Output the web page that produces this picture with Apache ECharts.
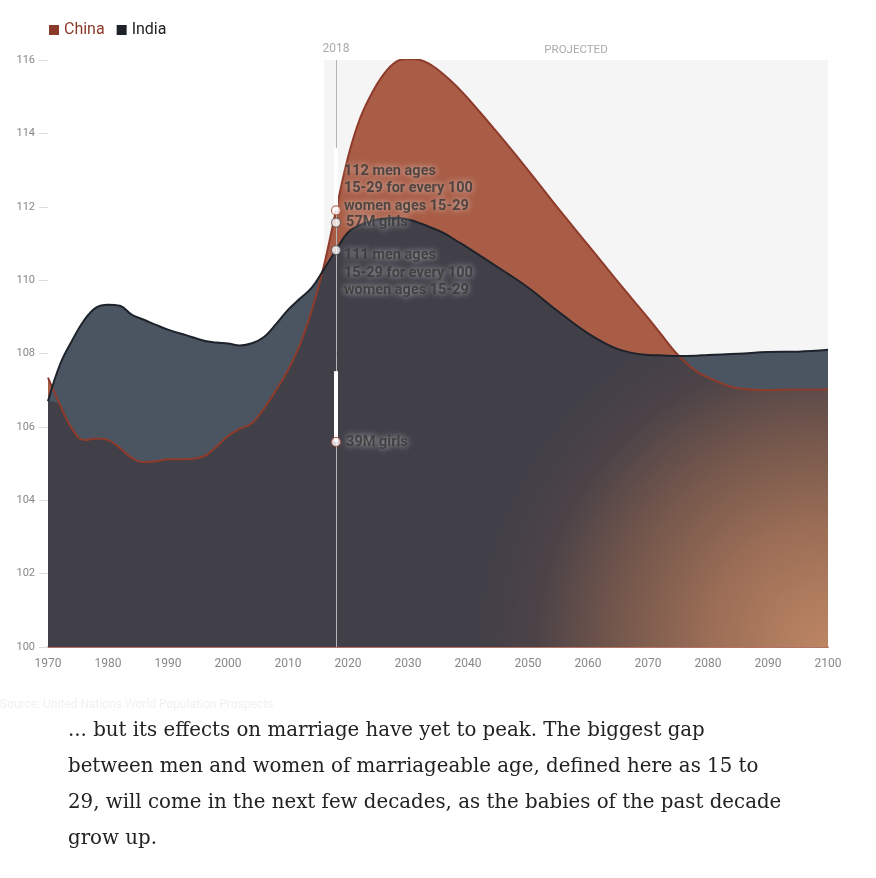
<!DOCTYPE html>
<html>
<head>
<meta charset="utf-8">
<script src="https://cdn.jsdelivr.net/npm/echarts@6/dist/echarts.min.js"></script>
<style>
  html, body { margin: 0; padding: 0; background: #fff; }
  #chart { width: 876px; height: 878px; }
</style>
</head>
<body>
<div id="chart"></div>
<script>
// men per 100 women, ages 15-29
var years = [1970,1972,1974,1976,1978,1980,1982,1984,1986,1988,1990,1993,1996,1998,2000,2002,2004,2006,2008,2010,2012,2014,2016,2018,2020,2022,2024,2026,2028,2030,2032,2034,2036,2038,2040,2045,2050,2055,2060,2065,2070,2072,2075,2078,2080,2085,2090,2095,2100];
var china = [107.34,106.6,105.95,105.64,105.68,105.64,105.42,105.15,105.04,105.06,105.12,105.12,105.2,105.45,105.75,105.95,106.1,106.5,107.0,107.55,108.25,109.2,110.4,111.9,113.35,114.4,115.1,115.62,115.95,116.03,116.0,115.85,115.6,115.3,114.95,114.0,113.0,111.96,110.96,109.95,108.97,108.56,107.96,107.52,107.35,107.05,107.0,107.02,107.02];
var india = [106.7,107.7,108.35,108.9,109.25,109.33,109.3,109.05,108.92,108.78,108.65,108.5,108.35,108.3,108.27,108.22,108.28,108.45,108.8,109.19,109.5,109.8,110.3,110.82,111.3,111.5,111.62,111.68,111.7,111.65,111.55,111.42,111.28,111.08,110.88,110.35,109.8,109.15,108.55,108.12,107.96,107.95,107.93,107.94,107.96,107.99,108.04,108.05,108.1];

var markYear = 2018;
var projectedFrom = 2016;
var pointValues = [111.9, 111.57, 110.82, 105.59];
var pointLabels = [
  '112 men ages\n15-29 for every 100\nwomen ages 15-29',
  '57M girls',
  '111 men ages\n15-29 for every 100\nwomen ages 15-29',
  '39M girls'
];
var girlBars = [[113.6, 111.9], [107.52, 105.59]];

var chinaData = years.map(function (y, i) { return [y, china[i]]; });
var indiaData = years.map(function (y, i) { return [y, india[i]]; });
var baseData = years.map(function (y, i) { return [y, Math.min(china[i], india[i])]; });

var chart = echarts.init(document.getElementById('chart'));

var glow = {
  color: '#363636',
  fontFamily: 'Roboto',
  fontWeight: 'bold',
  fontSize: 14.5,
  lineHeight: 17.5,
  textShadowColor: 'rgba(255,255,255,0.85)',
  textShadowBlur: 6
};

var option = {
  animation: false,
  backgroundColor: '#fff',
  grid: { left: 48, right: 48, top: 60, bottom: 231 },
  legend: {
    left: 44,
    top: 17,
    itemWidth: 10,
    itemHeight: 10,
    itemGap: 12,
    icon: 'rect',
    textStyle: { fontSize: 16, fontFamily: 'Roboto' },
    data: [
      { name: 'China', textStyle: { color: '#8b3a2a' } },
      { name: 'India', textStyle: { color: '#222' } }
    ]
  },
  xAxis: {
    type: 'value',
    min: 1970,
    max: 2100,
    interval: 10,
    axisLine: { show: true, lineStyle: { color: '#9a4431', width: 1.5 } },
    axisTick: { show: false },
    splitLine: { show: false },
    axisLabel: {
      color: '#888', fontSize: 12, margin: 11, fontFamily: 'Roboto',
      formatter: function (v) { return String(v); }
    }
  },
  yAxis: {
    type: 'value',
    min: 100,
    max: 116,
    interval: 2,
    axisLine: { show: false },
    axisTick: { show: true, length: 9, lineStyle: { color: '#ddd' } },
    splitLine: { show: false },
    axisLabel: { color: '#888', fontSize: 11, margin: 13, fontFamily: 'Roboto' }
  },
  series: [
    {
      name: 'China fill',
      type: 'line',
      z: 2,
      data: chinaData,
      smooth: 0.4,
      showSymbol: false,
      lineStyle: { width: 0 },
      itemStyle: { color: '#a95d46' },
      areaStyle: { color: '#a95d46', opacity: 1 },
      markArea: {
        silent: true,
        itemStyle: { color: '#f5f5f5' },
        label: { show: true, position: 'top', distance: 4, color: '#aaa', fontSize: 11.5, fontFamily: 'Roboto' },
        data: [[{ name: 'PROJECTED', xAxis: projectedFrom }, { xAxis: 2100 }]]
      }
    },
    {
      name: 'India fill',
      type: 'line',
      z: 2,
      data: indiaData,
      smooth: 0.4,
      showSymbol: false,
      lineStyle: { width: 0 },
      itemStyle: { color: '#4b5461' },
      areaStyle: { color: '#4b5461', opacity: 1 }
    },
    {
      name: 'base',
      type: 'line',
      z: 3,
      data: baseData,
      smooth: 0.4,
      showSymbol: false,
      lineStyle: { width: 0 },
      areaStyle: {
        opacity: 1,
        color: new echarts.graphic.RadialGradient(1, 1, 1.1, [
          { offset: 0, color: '#bd8664' },
          { offset: 0.25, color: '#9c6e56' },
          { offset: 0.45, color: '#74574c' },
          { offset: 0.62, color: '#4c4347' },
          { offset: 0.75, color: '#413f48' },
          { offset: 1, color: '#413f48' }
        ])
      }
    },
    {
      name: 'China',
      type: 'line',
      z: 4,
      data: chinaData,
      smooth: 0.4,
      showSymbol: false,
      itemStyle: { color: '#8b3a2a' },
      lineStyle: { color: '#8f3b2b', width: 2 }
    },
    {
      name: 'India',
      type: 'line',
      z: 4,
      data: indiaData,
      smooth: 0.4,
      showSymbol: false,
      itemStyle: { color: '#1e232b' },
      lineStyle: { color: '#1e232b', width: 2 },
      markLine: {
        silent: true,
        z: 8,
        symbol: 'none',
        label: { show: false },
        data: [
          {
            xAxis: markYear,
            lineStyle: { color: '#b5b5b5', width: 1, type: 'solid' },
            label: { show: true, position: 'end', distance: 5, formatter: String(markYear), color: '#aaa', fontSize: 12, fontFamily: 'Roboto' }
          },
          [
            { coord: [markYear, girlBars[0][0]], lineStyle: { color: '#fff', width: 4, type: 'solid' } },
            { coord: [markYear, girlBars[0][1]] }
          ],
          [
            { coord: [markYear, girlBars[1][0]], lineStyle: { color: '#fff', width: 4, type: 'solid' } },
            { coord: [markYear, girlBars[1][1]] }
          ]
        ]
      }
    },
    {
      name: 'points',
      type: 'scatter',
      z: 9,
      symbolSize: 9,
      data: [
        {
          value: [markYear, pointValues[0]],
          itemStyle: { color: '#fff', borderColor: '#a9503a', borderWidth: 1.2 },
          label: Object.assign({ show: true, position: [13, -43], align: 'left', verticalAlign: 'top', formatter: pointLabels[0] }, glow)
        },
        {
          value: [markYear, pointValues[1]],
          itemStyle: { color: '#fff', borderColor: '#555', borderWidth: 1.2 },
          label: Object.assign({ show: true, position: 'right', distance: 5, formatter: pointLabels[1] }, glow)
        },
        {
          value: [markYear, pointValues[2]],
          itemStyle: { color: '#fff', borderColor: '#555', borderWidth: 1.2 },
          label: Object.assign({ show: true, position: [13, 2], align: 'left', verticalAlign: 'top', formatter: pointLabels[2] }, glow)
        },
        {
          value: [markYear, pointValues[3]],
          itemStyle: { color: '#fff', borderColor: '#a9503a', borderWidth: 1.2 },
          label: Object.assign({ show: true, position: 'right', distance: 5, formatter: pointLabels[3] }, glow)
        }
      ]
    }
  ],
  graphic: [
    {
      type: 'text',
      left: 0,
      top: 699,
      style: { text: 'Source: United Nations World Population Prospects', fill: '#f1f1f1', fontSize: 12, fontFamily: 'Roboto' }
    },
    {
      type: 'text',
      left: 68,
      top: 713,
      style: {
        text: '... but its effects on marriage have yet to peak. The biggest gap\nbetween men and women of marriageable age, defined here as 15 to\n29, will come in the next few decades, as the babies of the past decade\ngrow up.',
        fill: '#222',
        fontSize: 19.8,
        lineHeight: 36,
        fontFamily: 'DejaVu Serif'
      }
    }
  ]
};

chart.setOption(option);
</script>
</body>
</html>
